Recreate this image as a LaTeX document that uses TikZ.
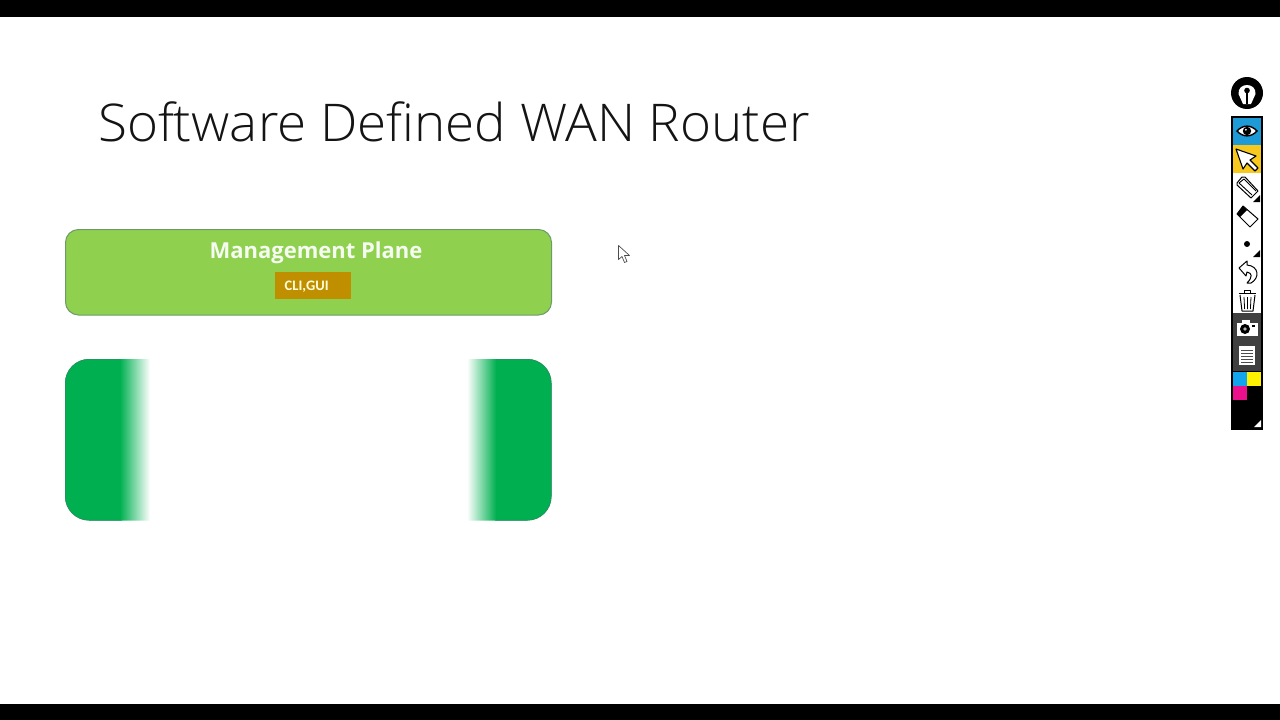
\documentclass[tikz,border=0pt]{standalone}
\usepackage{fontspec}
\setmainfont{Open Sans}
\newfontfamily\osl[FakeStretch=1.018]{Open Sans Light}
\newfontfamily\carl{Carlito}
\usetikzlibrary{calc}
\definecolor{mgmt}{HTML}{8FD14F}
\definecolor{mgmtedge}{HTML}{6E9A6A}
\definecolor{cligold}{HTML}{BF8F00}
\definecolor{dgreen}{HTML}{00B050}
\definecolor{dedge}{HTML}{2E8B62}
\definecolor{tbblue}{HTML}{1E9BD7}
\definecolor{tbyellow}{HTML}{F7C81E}
\definecolor{tbgray}{HTML}{404040}
\definecolor{tbcyan}{HTML}{12A5EE}
\definecolor{tbyel}{HTML}{FFF200}
\definecolor{tbmag}{HTML}{EC108C}
\tikzset{
  px/.style={x=1pt,y=-1pt},
  bar/.style={fill=black,draw=none},
  icon/.style={draw=black,line width=1pt,line join=round,fill=white},
  ticon/.style={draw=black,line width=1pt,line join=round},
  corner/.style={fill=black,draw=none},
}
\begin{document}
\begin{tikzpicture}[px]
\useasboundingbox (0,0) rectangle (1280,720);
\fill[white] (0,0) rectangle (1280,720);
\fill[bar] (0,0) rectangle (1280,16.5);
\fill[bar] (0,704) rectangle (1280,720);
% title
\node[anchor=base west,inner sep=0pt,font=\osl\fontsize{52}{54}\selectfont,text=black!92] (title) at (98,141) {Software Defined WAN Router};
% management plane
\draw[mgmtedge,fill=mgmt,line width=1pt,rounded corners=13pt] (65.5,229.5) rectangle (551.5,315);
\node[anchor=base,inner sep=0pt,font=\bfseries\fontsize{22}{24}\selectfont,text=white!92!mgmt] (mp) at (316,258.7) {Management Plane};
\fill[cligold] (275,272) rectangle (351,299);
\node[anchor=base,inner sep=0pt,font=\carl\bfseries\fontsize{14.5}{16}\selectfont,text=white!85!yellow] (cli) at (306.7,290.3) {CLI,GUI};
% cursor
\draw[black!70,fill=white,line width=.7pt,line join=round] (618.5,245.5) -- (618.5,259.5) -- (622,256.5) -- (624.5,262.5) -- (627,261.5) -- (624.5,255.5) -- (629.5,255.5) -- cycle;
% data plane, faded
\begin{scope}
\clip[rounded corners=24pt] (65,359) rectangle (551.5,520.5);
\fill[dgreen] (65,359) rectangle (122,520.5);
\shade[left color=dgreen,right color=white] (120,359) rectangle (150,520.5);
\fill[dgreen] (495,359) rectangle (551.5,520.5);
\shade[left color=white,right color=dgreen] (467,359) rectangle (496,520.5);
\end{scope}
\draw[dedge,line width=.6pt,rounded corners=24pt] (120,520.2) -- (65.3,520.2) -- (65.3,359.3) -- (120,359.3);
\draw[dedge,line width=.6pt,rounded corners=24pt] (496,359.3) -- (551.2,359.3) -- (551.2,520.2) -- (496,520.2);
% logo
\fill[black] (1247,93) circle (16);
\fill[white] (1243,104) -- (1238.5,94) .. controls (1237.5,82) and (1256.5,82) .. (1255.5,94) -- (1251,104) -- cycle;
\fill[black] (1247,90.5) circle (2.8);
\draw[black,line width=1.2pt] (1247,91) -- (1247,104);
% toolbar
\fill[black] (1231,116) rectangle (1263,430);
\fill[white] (1233,118) rectangle (1261,313);
\fill[tbblue] (1233,118) rectangle (1261,145);
\fill[tbyellow] (1233,145) rectangle (1261,173);
\fill[tbgray] (1233,313) rectangle (1261,371);
\fill[tbcyan] (1233,372) rectangle (1247,386);
\fill[tbyel] (1247,372) rectangle (1261,386);
\fill[tbmag] (1233,386) rectangle (1247,400);
% eye
\draw[black,fill=white,line width=1.4pt] (1237,131) .. controls (1243,124.5) and (1251,124.5) .. (1257,131) .. controls (1251,137.5) and (1243,137.5) .. (1237,131) -- cycle;
\fill[black] (1247,131) circle (4.2);
\fill[white] (1245.8,129.8) circle (1);
% arrow
\draw[icon,line width=1.1pt] (1236,149) -- (1256,156) -- (1250,160) -- (1258,168) -- (1255,171) -- (1247,163) -- (1243,169) -- cycle;
% pencil
\draw[icon] (1242,177) -- (1237,183) -- (1237,185) -- (1251,198) -- (1258,191) -- (1245,177) -- cycle;
\draw[ticon,line width=.9pt] (1239,183) -- (1244,179) (1239,183) -- (1252,195) (1244,179) -- (1256,191);
\fill[corner] (1260,195) -- (1260,202) -- (1253,202) -- cycle;
% eraser
\draw[icon] (1243,206) -- (1237,214) -- (1250,227) -- (1258,219) -- cycle;
\fill[black] (1243,206) -- (1237,214) -- (1240,217) -- (1247,210) -- cycle;
% dot
\fill[black] (1247,244) circle (3);
\fill[corner] (1260,250) -- (1260,257) -- (1253,257) -- cycle;
% undo
\draw[black,line width=1pt,line join=round,fill=white] (1239,268) -- (1247,261) -- (1247,265) .. controls (1259,266) and (1260,278) .. (1251,283) -- (1247,283) .. controls (1253,277) and (1252,273) .. (1247,272) -- (1246,276) -- cycle;
% trash
\draw[ticon,fill=white] (1240,295) -- (1242,311) -- (1253,311) -- (1255,295);
\draw[ticon,line width=1.4pt] (1238.5,293.5) -- (1256,293.5);
\draw[ticon] (1244,293) -- (1244,290) -- (1250,290) -- (1250,293);
\draw[black,line width=.8pt] (1244,297) -- (1244.6,309) (1247.5,297) -- (1247.5,309) (1251,297) -- (1250.4,309);
% camera
\fill[white] (1237,323) rectangle (1258,336);
\fill[white] (1242,320) rectangle (1250,323);
\fill[black] (1245,329) circle (5);
\fill[tbgray!40] (1245,329) circle (1.8);
\fill[black] (1252,325) rectangle (1255,327);
% note
\fill[white] (1239,346) rectangle (1255,365);
\draw[black!70,line width=.8pt] (1241,350) -- (1253,350) (1241,353) -- (1253,353) (1241,356) -- (1253,356) (1241,359) -- (1253,359) (1241,362) -- (1253,362);
% size corner
\fill[white] (1261,420) -- (1261,427) -- (1254,427) -- cycle;
\end{tikzpicture}
\end{document}
